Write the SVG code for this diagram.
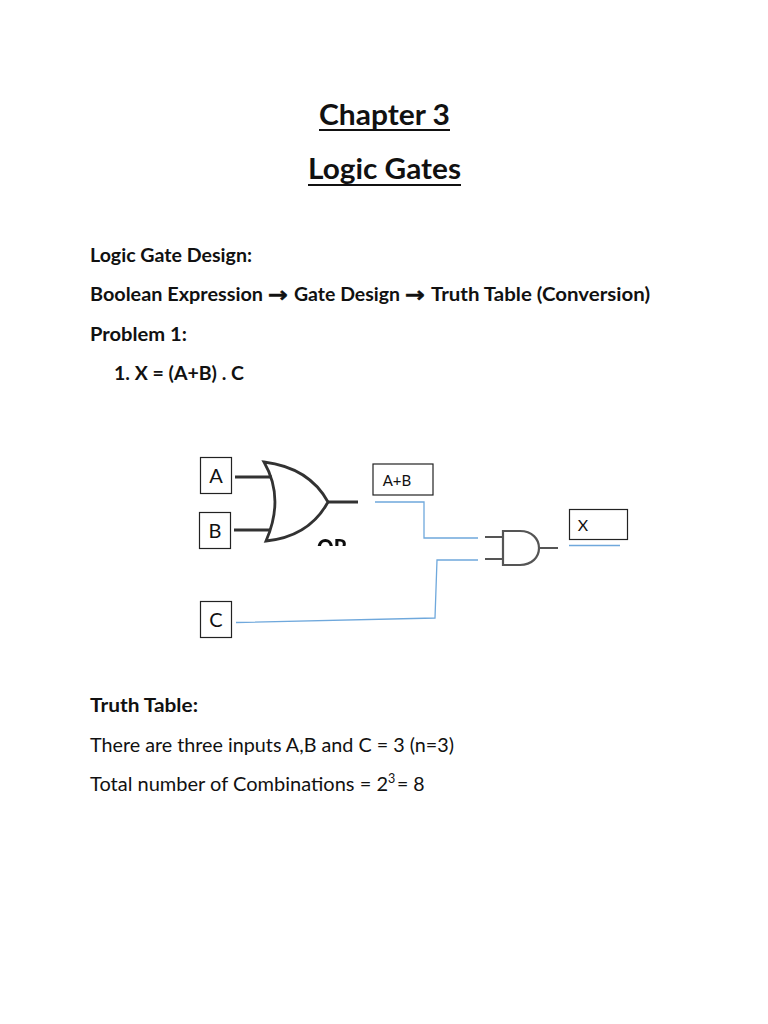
<svg xmlns="http://www.w3.org/2000/svg" width="768" height="1024" viewBox="0 0 768 1024">
<style>
text{font-family:"Lato","Noto Sans","Liberation Sans",sans-serif;fill:#111}
.h{font-size:29px;font-weight:700;text-anchor:middle}
.b{font-size:19.5px;font-weight:700}
.r{font-size:19.5px;font-weight:400}
.l{font-size:20px;text-anchor:middle}
.s{font-size:15px;text-anchor:middle}
.box{fill:#fff;stroke:#222;stroke-width:1.2}
.gate{fill:none;stroke:#555;stroke-width:2.2}
.or{fill:none;stroke:#333;stroke-width:2.8}
.wire{fill:none;stroke:#6fa8dc;stroke-width:1.3}
.arr{font-size:21px;font-weight:700;stroke:#111;stroke-width:.5}
</style>
<defs>
<clipPath id="cut"><rect x="310" y="530" width="45" height="16"/></clipPath>
<filter id="soft" x="-10%" y="-10%" width="120%" height="120%"><feGaussianBlur stdDeviation="0.6"/></filter>
</defs>
<rect width="768" height="1024" fill="#fff"/>
<g id="headings">
<text class="h" x="384.500" y="125" textLength="131" lengthAdjust="spacingAndGlyphs">Chapter 3</text>
<rect x="319" y="129" width="131" height="2" fill="#111"/>
<text class="h" x="384.500" y="179" textLength="153" lengthAdjust="spacingAndGlyphs">Logic Gates</text>
<rect x="308" y="184" width="153" height="2" fill="#111"/>
</g>
<g id="body">
<text class="b" x="90" y="262" textLength="162" lengthAdjust="spacingAndGlyphs">Logic Gate Design:</text>
<text class="b" x="90" y="301" textLength="173" lengthAdjust="spacingAndGlyphs">Boolean Expression</text>
<text class="arr" x="268" y="302" style="font-family:'DejaVu Sans',sans-serif" textLength="20" lengthAdjust="spacingAndGlyphs">→</text>
<text class="b" x="294" y="301" textLength="106" lengthAdjust="spacingAndGlyphs">Gate Design</text>
<text class="arr" x="405" y="302" style="font-family:'DejaVu Sans',sans-serif" textLength="20" lengthAdjust="spacingAndGlyphs">→</text>
<text class="b" x="431" y="301" textLength="219" lengthAdjust="spacingAndGlyphs">Truth Table (Conversion)</text>
<text class="b" x="90" y="341" textLength="97" lengthAdjust="spacingAndGlyphs">Problem 1:</text>
<text class="b" x="114" y="380" textLength="130" lengthAdjust="spacingAndGlyphs">1. X = (A+B) . C</text>
<text class="b" x="90" y="712" textLength="108" lengthAdjust="spacingAndGlyphs">Truth Table:</text>
<text class="r" x="90" y="752" textLength="364" lengthAdjust="spacingAndGlyphs">There are three inputs A,B and C = 3 (n=3)</text>
<text class="r" x="90" y="791" textLength="298" lengthAdjust="spacingAndGlyphs">Total number of Combinations = 2</text>
<text class="r" x="388" y="783" style="font-size:12.500px">3</text>
<text class="r" x="397" y="791">= 8</text>
</g>
<g id="connectors">
<path class="wire" d="M375 502H424V538H478"/>
<path class="wire" d="M478 560H437L435 618L236 622.500"/>
<path class="wire" d="M569 545.500H620"/>
</g>
<g id="node-a"><rect class="box" x="200.500" y="457.500" width="31" height="36"/><text class="l" x="216" y="483">A</text></g>
<g id="node-b"><rect class="box" x="199.500" y="512.500" width="31" height="36"/><text class="l" x="215" y="538">B</text></g>
<g id="node-c"><rect class="box" x="200.500" y="601.500" width="31" height="36"/><text class="l" x="216" y="627">C</text></g>
<g id="node-ab"><rect class="box" x="373" y="464" width="60" height="31"/><text class="s" x="397" y="486">A+B</text></g>
<g id="node-x"><rect class="box" x="569.500" y="509.500" width="58" height="30"/><text class="l" x="583" y="531" style="font-size:16px">X</text></g>
<g id="or-gate" filter="url(#soft)">
<path class="or" d="M264 462C296 466 316 480 328 502C316 524 296 538 266 541C277 516 279 488 264 462Z"/>
<path class="or" d="M235 477H272M234 530H271M328 502H358"/>
<text x="317" y="556" clip-path="url(#cut)" style="font-size:23px;font-weight:900" textLength="30" lengthAdjust="spacingAndGlyphs">OR</text>
</g>
<g id="and-gate">
<path class="gate" d="M503 531H520C532 531 539 539 539 548C539 557 532 565 520 565H503Z"/>
<path class="gate" d="M485 537H503M485 559H503M539 548H558"/>
</g>
</svg>
